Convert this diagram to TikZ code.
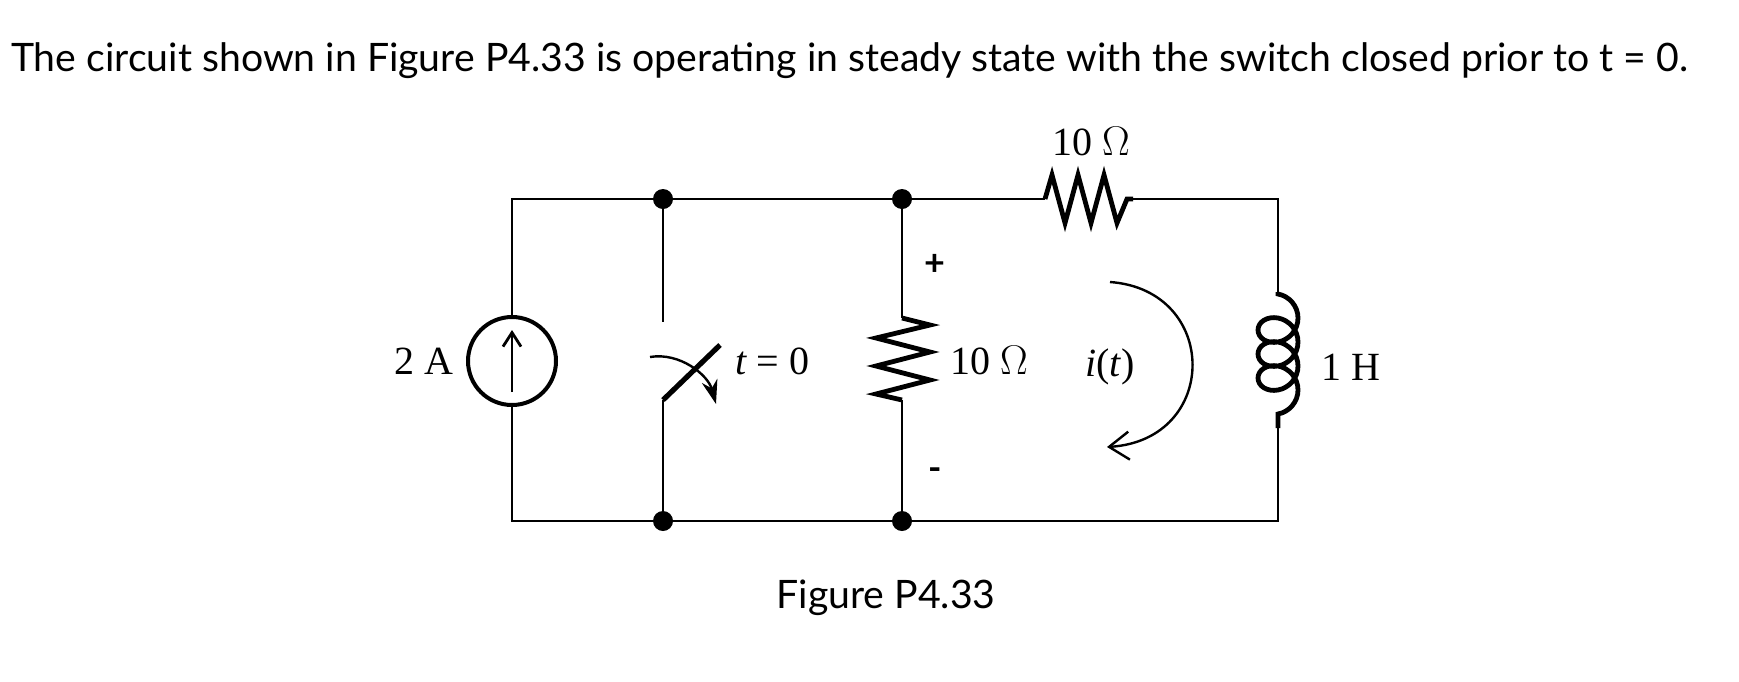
\documentclass[tikz,border=0pt]{standalone}
\usepackage{fontspec}
\setmainfont{Liberation Serif}
\newfontfamily\lato{Lato}
\usetikzlibrary{decorations.pathmorphing,arrows.meta}
\begin{document}
\begin{tikzpicture}[x=0.5pt,y=-0.5pt,
  wire/.style={line width=1.2pt},
  dot/.style={circle,fill=black,inner sep=0pt,minimum size=10pt},
  lbl/.style={font=\fontsize{20}{24}\selectfont},
  sgn/.style={font=\lato\bfseries\fontsize{18}{20}\selectfont}]
\useasboundingbox (0,0) rectangle (1739,681);
% header
\node[anchor=west,font=\lato\fontsize{19.6}{22}\selectfont] (hdr) at (4,61) {The circuit shown in Figure P4.33 is operating in steady state with the switch closed prior to t = 0.};
\node[font=\lato\fontsize{19.6}{22}\selectfont] (cap) at (886,598) {Figure P4.33};
% nodes
\coordinate (tl) at (512,199); \coordinate (bl) at (512,521);
\node[dot] (t1) at (663,199) {}; \node[dot] (b1) at (663,521) {};
\node[dot] (t2) at (902,199) {}; \node[dot] (b2) at (902,521) {};
\coordinate (tr) at (1278,199); \coordinate (br) at (1278,521);
\node[circle,draw,line width=2pt,minimum size=44pt,inner sep=0pt] (src) at (512,361) {};
\coordinate (swt) at (663,322); \coordinate (swb) at (663,400);
\coordinate (rmt) at (902,318); \coordinate (rmb) at (902,400);
\coordinate (rtl) at (1045,199); \coordinate (rtr) at (1133,199);
\coordinate (lt) at (1278,292); \coordinate (lb) at (1278,428);
% wires
\draw[wire] (src.north) -- (tl) -- (t1) -- (t2) -- (rtl);
\draw[wire] (rtr) -- (tr) -- (lt);
\draw[wire] (src.south) -- (bl) -- (b1) -- (b2) -- (br) -- (lb);
\draw[wire] (t1) -- (swt); \draw[wire] (swb) -- (b1);
\draw[wire] (t2) -- (rmt); \draw[wire] (rmb) -- (b2);
% source arrow
\draw[line width=1.4pt,-{Straight Barb[length=7pt,width=9pt]}] (512,392) -- (512,330);
\node[lbl,anchor=east] (la) at (460,361) {2 A};
% switch
\draw[line width=2.6pt] (swb) -- (720,345);
\coordinate (aa) at (650,357); \coordinate (ab) at (716,404);
\draw[line width=1.2pt,-{Stealth[length=12pt,width=8pt]}] (aa) .. controls (680,352) and (708,375) .. (ab);
\node[lbl,anchor=west] (lt0) at (728,361) {\textit{t} = 0};
% middle resistor
\draw[line width=2.4pt] (rmt) -- (930,325) -- (876,338) -- (930,352) -- (876,366) -- (930,380) -- (876,394) -- (rmb);
\node[lbl,anchor=west] (lr1) at (943,361) {10 $\Omega$};
\node[sgn] (plus) at (935,265) {+};
\node[sgn] (minus) at (935,474) {-};
% top resistor
\draw[line width=2.4pt] (rtl) -- (1052,175) -- (1065,223) -- (1078,175) -- (1091,223) -- (1104,175) -- (1117,223) -- (1127,199) -- (rtr);
\node[lbl] (lr2) at (1091,142) {10 $\Omega$};
% inductor
\draw[line width=2.4pt,decorate,decoration={coil,amplitude=10pt,segment length=12pt,aspect=0.9,pre length=1pt,post length=1pt}] (lt) -- (lb);
\node[lbl,anchor=west] (lh) at (1314,367) {1 H};
% loop current
\coordinate (ia) at (1110,282); \coordinate (ib) at (1107,447);
\draw[line width=1.2pt,-{Straight Barb[length=10pt,width=14pt]}] (ia) .. controls (1220,290) and (1220,440) .. (ib);
\node[lbl] (li) at (1110,367) {\textit{i}(\textit{t})};
\end{tikzpicture}
\end{document}
